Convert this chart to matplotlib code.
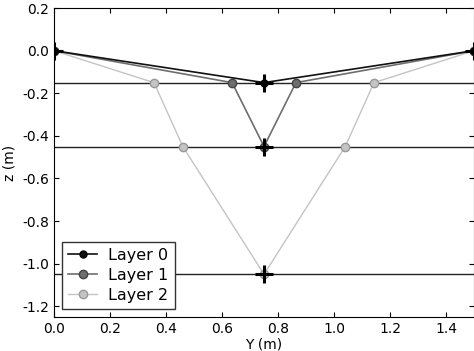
import matplotlib
matplotlib.use("Agg")
import matplotlib.pyplot as plt

# layer depths (m) and profile points
depths = [-0.15, -0.45, -1.05]
layer0_y = [0.0, 0.75, 1.5]
layer0_z = [0.0, -0.15, 0.0]
layer1_y = [0.0, 0.636, 0.75, 0.864, 1.5]
layer1_z = [0.0, -0.15, -0.45, -0.15, 0.0]
layer2_y = [0.0, 0.357, 0.46, 0.75, 1.04, 1.143, 1.5]
layer2_z = [0.0, -0.15, -0.45, -1.05, -0.45, -0.15, 0.0]
source_y = [0.0, 0.75, 0.75, 0.75, 1.5]
source_z = [0.0, -0.15, -0.45, -1.05, 0.0]

plt.rcParams['font.family'] = 'DejaVu Sans'
plt.rcParams['font.size'] = 10
plt.rcParams['xtick.direction'] = 'in'
plt.rcParams['ytick.direction'] = 'in'
plt.rcParams['xtick.top'] = True
plt.rcParams['ytick.right'] = True

fig = plt.figure(figsize=(4.74, 3.51), dpi=100)
ax = fig.add_axes([0.114, 0.097, 0.886, 0.88])

for d in depths:
    ax.axhline(d, color='#222222', linewidth=1.0, zorder=1)

ax.plot(layer2_y, layer2_z, '-o', color='#c4c4c4', mec='#999999', markersize=6,
        linewidth=1.0, label='Layer 2', zorder=2)
ax.plot(layer1_y, layer1_z, '-o', color='#6e6e6e', mec='#444444', markersize=6,
        linewidth=1.2, label='Layer 1', zorder=3)
ax.plot(layer0_y, layer0_z, '-o', color='#111111', mec='#000000', markersize=5,
        linewidth=1.2, label='Layer 0', zorder=4)
ax.plot(source_y, source_z, '+', color='black', markersize=13, mew=2.2, zorder=5)

ax.set_xlim(0, 1.5)
ax.set_ylim(-1.25, 0.2)
ax.set_xticks([0.0, 0.2, 0.4, 0.6, 0.8, 1.0, 1.2, 1.4])
ax.set_yticks([0.2, 0.0, -0.2, -0.4, -0.6, -0.8, -1.0, -1.2])
ax.xaxis.set_major_formatter(matplotlib.ticker.FormatStrFormatter('%.1f'))
ax.yaxis.set_major_formatter(matplotlib.ticker.FormatStrFormatter('%.1f'))
ax.set_xlabel('Y (m)', labelpad=1)
ax.set_ylabel('z (m)', labelpad=4)

handles, labels = ax.get_legend_handles_labels()
leg = ax.legend(handles[::-1], labels[::-1], loc='lower left', fontsize=11.5,
                fancybox=False, framealpha=1, edgecolor='#333333',
                handlelength=1.8, borderaxespad=0.5, labelspacing=0.3,
                handletextpad=0.7, borderpad=0.4)

fig.savefig('out.png', dpi=100)
